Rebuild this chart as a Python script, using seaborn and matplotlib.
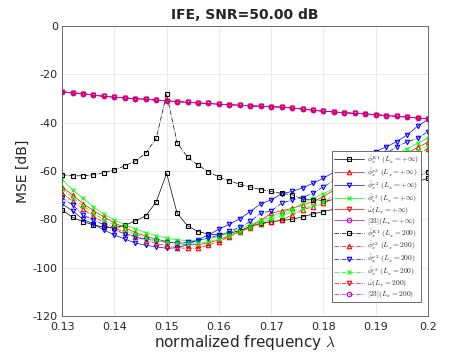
import numpy as np
import pandas as pd
import seaborn as sns
import matplotlib
matplotlib.use("Agg")
import matplotlib.pyplot as plt

# normalized frequency grid (36 points, 0.13 ... 0.20)
lam = [0.130, 0.132, 0.134, 0.136, 0.138, 0.140, 0.142, 0.144, 0.146, 0.148,
       0.150, 0.152, 0.154, 0.156, 0.158, 0.160, 0.162, 0.164, 0.166, 0.168,
       0.170, 0.172, 0.174, 0.176, 0.178, 0.180, 0.182, 0.184, 0.186, 0.188,
       0.190, 0.192, 0.194, 0.196, 0.198, 0.200]

# MSE [dB]
k1_inf = [-76.1, -79.2, -81.0, -82.3, -83.3, -83.5, -82.5, -80.7, -78.6, -72.8,
          -61.0, -77.5, -82.7, -85.1, -86.1, -86.5, -85.8, -84.7, -83.0, -81.6,
          -81.0, -80.5, -80.0, -79.0, -77.8, -76.8, -75.8, -74.5, -73.0, -71.6,
          -70.2, -68.8, -67.3, -65.9, -64.4, -63.0]
x2_inf = [-66.6, -70.0, -73.5, -76.5, -79.0, -81.5, -83.5, -85.5, -87.0, -88.2,
          -89.2, -90.0, -90.5, -90.5, -89.8, -88.5, -86.8, -85.0, -83.0, -80.5,
          -77.5, -76.5, -75.5, -74.1, -72.7, -70.6, -67.9, -66.0, -63.8, -61.5,
          -59.0, -57.3, -54.7, -52.7, -50.2, -48.2]
w2_inf = [-73.6, -76.5, -80.0, -82.0, -84.4, -86.5, -88.2, -89.8, -90.8, -91.4,
          -92.0, -91.8, -90.5, -88.5, -86.5, -84.1, -82.0, -79.8, -76.8, -73.6,
          -72.0, -69.4, -68.5, -67.0, -65.1, -63.0, -60.5, -57.5, -55.0, -53.0,
          -52.0, -50.0, -47.9, -45.1, -41.5, -38.7]
r2_inf = [-63.5, -67.9, -71.3, -74.8, -77.9, -80.3, -82.3, -83.9, -85.5, -86.8,
          -87.8, -88.5, -88.8, -88.6, -88.0, -87.0, -85.5, -84.0, -82.2, -80.5,
          -78.9, -77.2, -75.8, -73.4, -71.3, -69.5, -67.2, -64.8, -62.5, -60.0,
          -57.5, -55.5, -53.0, -50.8, -48.5, -46.3]
k1_200 = [-61.6, -62.0, -62.0, -61.6, -60.7, -59.6, -57.9, -55.9, -52.7, -46.5,
          -28.2, -48.3, -54.3, -57.6, -60.3, -62.5, -64.1, -65.5, -66.7, -67.7,
          -68.5, -69.3, -69.9, -71.5, -72.0, -72.3, -72.0, -71.5, -70.5, -69.5,
          -68.3, -67.0, -65.5, -64.0, -62.3, -60.3]
x2_200 = [-69.0, -72.5, -75.8, -78.8, -81.3, -83.5, -85.5, -87.2, -88.8, -90.0,
          -91.0, -91.8, -92.0, -92.0, -90.6, -89.2, -87.2, -85.1, -83.5, -82.0,
          -81.0, -80.3, -78.2, -76.1, -74.8, -73.4, -71.3, -69.0, -66.5, -64.0,
          -61.5, -59.5, -57.0, -55.0, -52.7, -50.8]
w2_200 = [-71.2, -74.0, -78.2, -80.3, -82.3, -84.4, -86.0, -87.3, -88.2, -89.0,
          -89.5, -89.7, -89.5, -88.8, -87.8, -86.5, -85.0, -83.3, -80.9, -77.5,
          -76.5, -73.4, -72.0, -71.0, -69.2, -66.5, -64.0, -61.0, -58.2, -56.5,
          -54.7, -52.7, -50.0, -48.0, -46.5, -43.7]
r2_200 = [-67.5, -71.0, -74.5, -77.5, -80.2, -82.5, -84.5, -86.2, -87.6, -88.7,
          -89.5, -90.0, -90.2, -90.0, -89.3, -88.2, -86.8, -85.2, -83.5, -81.5,
          -80.0, -78.5, -77.0, -75.8, -74.1, -72.7, -70.3, -68.0, -65.5, -63.0,
          -60.5, -58.3, -56.0, -53.8, -51.5, -49.5]
# omega-hat and [23] lie on the same curve for both L_x
omega_ref = [-27.2, -27.7, -28.0, -28.7, -29.1, -29.5, -29.8, -30.1, -30.3, -30.7,
             -31.0, -31.3, -31.6, -31.9, -32.1, -32.4, -32.6, -32.8, -33.1, -33.2,
             -33.4, -33.6, -34.0, -34.4, -34.9, -35.3, -35.6, -35.9, -36.2, -36.4,
             -36.7, -37.1, -37.4, -37.7, -38.1, -38.4]

series = [
    (k1_inf, 'k', 's', '-', r'$\hat{\phi}_x^{K1}\ (L_x=+\infty)$'),
    (x2_inf, 'r', '^', '-', r'$\hat{\phi}_x^{x2}\ (L_x=+\infty)$'),
    (w2_inf, 'b', 'v', '-', r'$\hat{\phi}_x^{\omega 2}\ (L_x=+\infty)$'),
    (r2_inf, '#00ff00', 'x', '-', r'$\hat{\phi}_x^{r2}\ (L_x=+\infty)$'),
    (omega_ref, 'r', 'v', '-', r'$\hat{\omega}(L_x=+\infty)$'),
    (omega_ref, 'm', 'o', '-', r'$[23](L_x=+\infty)$'),
    (k1_200, 'k', 's', '-.', r'$\hat{\phi}_x^{K1}\ (L_x=200)$'),
    (x2_200, 'r', '^', '-.', r'$\hat{\phi}_x^{x2}\ (L_x=200)$'),
    (w2_200, 'b', 'v', '-.', r'$\hat{\phi}_x^{\omega 2}\ (L_x=200)$'),
    (r2_200, '#00ff00', 'x', '-.', r'$\hat{\phi}_x^{r2}\ (L_x=200)$'),
    (omega_ref, 'r', 'v', '-.', r'$\hat{\omega}(L_x=200)$'),
    (omega_ref, 'm', 'o', '-.', r'$[23](L_x=200)$'),
]

sns.set_style("whitegrid")
plt.rcParams['font.family'] = ['DejaVu Sans']
plt.rcParams['mathtext.fontset'] = 'cm'
plt.rcParams['axes.unicode_minus'] = False

fig = plt.figure(figsize=(4.74, 3.55), dpi=100)
ax = fig.add_axes([0.131, 0.110, 0.772, 0.817])

for vals, col, mk, ls, lab in series:
    sns.lineplot(x=lam, y=vals, ax=ax, color=col, marker=mk, linestyle=ls,
                 linewidth=0.5, markersize=3.2, markerfacecolor='none',
                 markeredgecolor=col, markeredgewidth=0.8, label=lab)

ax.set_xlim(0.13, 0.2)
ax.set_ylim(-120, 0)
ax.set_xticks([0.13, 0.14, 0.15, 0.16, 0.17, 0.18, 0.19, 0.2])
ax.set_xticklabels(['0.13', '0.14', '0.15', '0.16', '0.17', '0.18', '0.19', '0.2'])
ax.set_yticks([0, -20, -40, -60, -80, -100, -120])
ax.tick_params(axis='x', labelsize=8, length=0, pad=4)
ax.tick_params(axis='y', labelsize=8, length=0, pad=3)
ax.grid(True, color='#e6e6e6', linewidth=0.6)
for s in ax.spines.values():
    s.set_color('#555555')
    s.set_linewidth(0.6)

ax.set_title('IFE, SNR=50.00 dB', fontsize=10, fontweight='bold', pad=5)
ax.set_xlabel(r'normalized frequency $\lambda$', fontsize=11, labelpad=1)
ax.set_ylabel('MSE [dB]', fontsize=10, labelpad=2)

leg = ax.legend(loc='lower right', bbox_to_anchor=(0.992, 0.034), fontsize=5.4,
                frameon=True, fancybox=False, framealpha=1, edgecolor='#555555',
                labelspacing=0.0, handlelength=4.0, borderpad=0.25,
                handletextpad=0.5)
leg.get_frame().set_linewidth(0.6)

fig.savefig('out.png', dpi=100)
